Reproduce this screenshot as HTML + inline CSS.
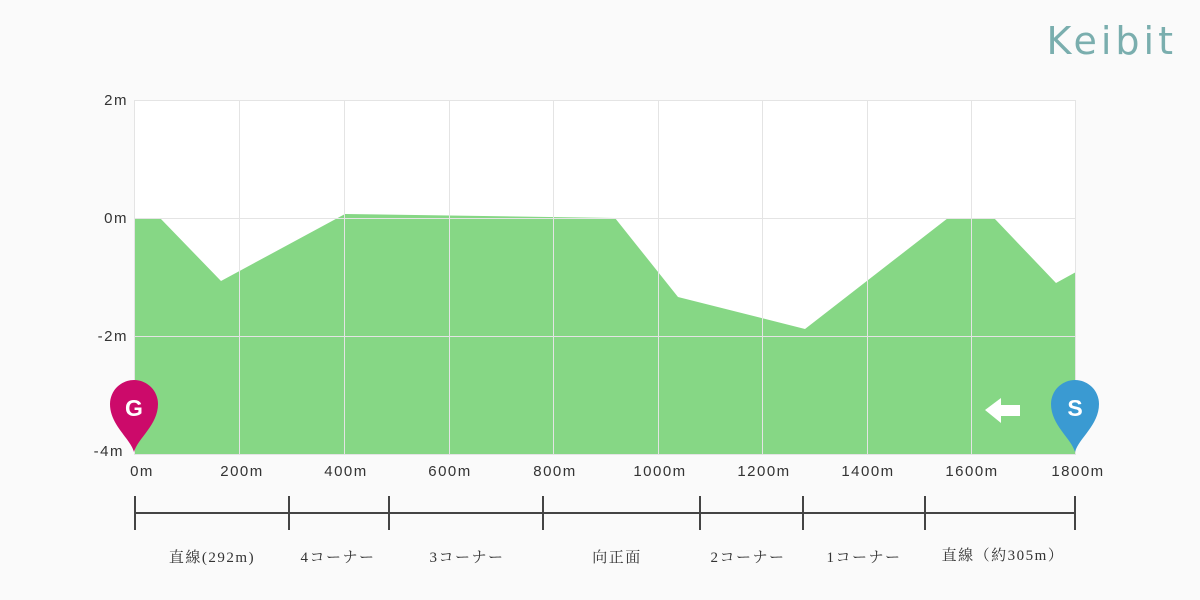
<!DOCTYPE html>
<html><head><meta charset="utf-8"><style>
body{margin:0;background:#fafafa;}
svg{display:block}
</style></head><body>
<svg width="1200" height="600" xmlns="http://www.w3.org/2000/svg">
<rect width="1200" height="600" fill="#fafafa"/>
<rect x="134" y="100" width="942" height="354" fill="#fff"/>
<polygon points="134,454 134,218 160,218 221,281 345,214 615,218 678,297 805,329 948,218 994,218 1056,283 1076,272 1076,454" fill="#86d785"/>
<g stroke="#e4e4e4" stroke-width="1">
<line x1="134" y1="100.5" x2="1076" y2="100.5"/>
<line x1="134" y1="218.5" x2="1076" y2="218.5"/>
<line x1="134" y1="336.5" x2="1076" y2="336.5"/>
<line x1="134" y1="454.5" x2="1076" y2="454.5"/>
<line x1="134.5" y1="100" x2="134.5" y2="454"/>
<line x1="239.5" y1="100" x2="239.5" y2="454"/>
<line x1="344.5" y1="100" x2="344.5" y2="454"/>
<line x1="449.5" y1="100" x2="449.5" y2="454"/>
<line x1="553.5" y1="100" x2="553.5" y2="454"/>
<line x1="658.5" y1="100" x2="658.5" y2="454"/>
<line x1="762.5" y1="100" x2="762.5" y2="454"/>
<line x1="867.5" y1="100" x2="867.5" y2="454"/>
<line x1="971.5" y1="100" x2="971.5" y2="454"/>
<line x1="1075.5" y1="100" x2="1075.5" y2="454"/>
</g>
<g font-family="Liberation Sans, sans-serif" font-size="15" fill="#333" letter-spacing="1.5">
<text x="128" y="105" text-anchor="end">2m</text>
<text x="128" y="223" text-anchor="end">0m</text>
<text x="128" y="341" text-anchor="end">-2m</text>
<text x="124" y="456" text-anchor="end">-4m</text>
<g text-anchor="middle">
<text x="142" y="476">0m</text>
<text x="242" y="476">200m</text>
<text x="346" y="476">400m</text>
<text x="450" y="476">600m</text>
<text x="555" y="476">800m</text>
<text x="660" y="476">1000m</text>
<text x="764" y="476">1200m</text>
<text x="868" y="476">1400m</text>
<text x="972" y="476">1600m</text>
<text x="1078" y="476">1800m</text>
</g></g>
<text x="1177" y="54" text-anchor="end" font-family="DejaVu Sans, sans-serif" font-size="38" fill="#7aaeae" letter-spacing="4">Keibit</text>
<g stroke="#444" stroke-width="2">
<line x1="134" y1="513" x2="1076" y2="513"/>
<line x1="135" y1="496" x2="135" y2="530"/>
<line x1="289" y1="496" x2="289" y2="530"/>
<line x1="389" y1="496" x2="389" y2="530"/>
<line x1="543" y1="496" x2="543" y2="530"/>
<line x1="700" y1="496" x2="700" y2="530"/>
<line x1="803" y1="496" x2="803" y2="530"/>
<line x1="925" y1="496" x2="925" y2="530"/>
<line x1="1075" y1="496" x2="1075" y2="530"/>
</g>
<g font-family="Liberation Serif, Noto Serif CJK SC, serif" font-size="15" fill="#333" text-anchor="middle" letter-spacing="1.5">
<text x="212" y="562">直線(292m)</text>
<text x="338" y="562">4コーナー</text>
<text x="467" y="562">3コーナー</text>
<text x="617" y="562">向正面</text>
<text x="748" y="562">2コーナー</text>
<text x="864" y="562">1コーナー</text>
<text x="1003" y="560">直線（約305m）</text>
</g>
<path d="M134,452 C130,438 110,425 110,404 A24,24 0 0 1 158,404 C158,425 138,438 134,452Z" fill="#cc0a6a"/>
<text x="134" y="416" text-anchor="middle" font-family="Liberation Sans, sans-serif" font-weight="bold" font-size="23" fill="#fff">G</text>
<path d="M1075,452 C1071,438 1051,425 1051,404 A24,24 0 0 1 1099,404 C1099,425 1079,438 1075,452Z" fill="#3a9ad2"/>
<text x="1075" y="416" text-anchor="middle" font-family="Liberation Sans, sans-serif" font-weight="bold" font-size="23" fill="#fff">S</text>
<polygon points="985,410 1001,398 1001,405 1020,405 1020,416 1001,416 1001,423" fill="#fff"/>
</svg>
</body></html>
